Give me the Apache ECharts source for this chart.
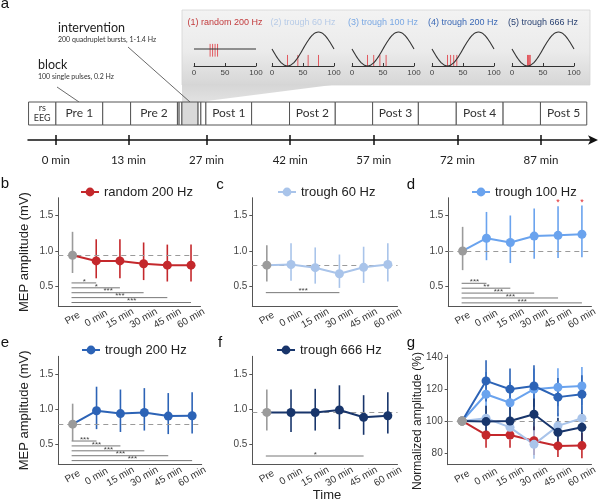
<!DOCTYPE html>
<html lang="en">
<head>
<meta charset="UTF-8">
<title>MEP amplitude after phase-locked burst stimulation</title>
<style>
  html, body { margin: 0; padding: 0; background: #fff; }
  #chart { width: 600px; height: 502px; }
</style>
</head>
<body>
<div id="chart"></div>
<script src="https://cdn.jsdelivr.net/npm/echarts@6/dist/echarts.min.js"></script>
<script>
// ---------- data ----------
const timePoints = ['Pre', '0 min', '15 min', '30 min', '45 min', '60 min'];

// panel a: session timeline, minutes
const timelineTicks = [0, 13, 27, 42, 57, 72, 87];
const blockLabels = ['rs\nEEG', 'Pre 1', '', 'Pre 2', '', '', '', '', '', 'Post 1', '', 'Post 2', '', 'Post 3', '', 'Post 4', '', 'Post 5'];
const blockStart  = [-4.9, 0, 8.4, 13.4, 21.8, 22.1, 22.6, 25.5, 26.0, 26.9, 35.1, 41.9, 50.1, 56.8, 65.0, 71.8, 80.2, 86.9];
const blockEnd    = [0, 8.4, 13.4, 21.8, 22.1, 22.6, 25.5, 26.0, 26.9, 35.1, 41.9, 50.1, 56.8, 65.0, 71.8, 80.2, 86.9, 95.2];
const interventionBlock = 6;

// insets: protocol schematics (phase in % of a mu cycle)
const protocolNames = ['(1) random 200 Hz', '(2) trough 60 Hz', '(3) trough 100 Hz', '(4) trough 200 Hz', '(5) trough 666 Hz'];
const phaseX = [0, 5, 10, 15, 20, 25, 30, 35, 40, 45, 50, 55, 60, 65, 70, 75, 80, 85, 90, 95, 100];
const waveY  = [0, -0.31, -0.59, -0.81, -0.95, -1, -0.95, -0.81, -0.59, -0.31, 0, 0.31, 0.59, 0.81, 0.95, 1, 0.95, 0.81, 0.59, 0.31, 0];
const flatX  = [0, 100];
const flatY  = [0, 0];
const pulseTimes = [
  [26, 30, 34, 38],
  [25, 41.7, 58.3, 75],
  [25, 35, 45, 55],
  [25, 30, 35, 40],
  [25, 26.5, 28, 29.5]
];

// panels b-f: MEP amplitude (mV), mean and error bar ends
const mepRandom200   = [0.94, 0.86, 0.86, 0.82, 0.80, 0.80];
const mepRandom200Hi = [1.27, 1.165, 1.165, 1.12, 1.09, 1.09];
const mepRandom200Lo = [0.69, 0.615, 0.615, 0.59, 0.57, 0.57];
const sigRandom200End  = [1, 2, 3, 4, 5];
const sigRandom200Text = ['*', '*', '***', '***', '***'];

const mep60   = [0.80, 0.81, 0.765, 0.68, 0.77, 0.81];
const mep60Hi = [1.08, 1.11, 1.05, 0.95, 1.06, 1.11];
const mep60Lo = [0.57, 0.58, 0.54, 0.48, 0.55, 0.57];
const sig60End  = [3];
const sig60Text = ['***'];

const mep100   = [1.0, 1.18, 1.12, 1.21, 1.22, 1.235];
const mep100Hi = [1.34, 1.55, 1.50, 1.60, 1.63, 1.64];
const mep100Lo = [0.73, 0.87, 0.83, 0.89, 0.90, 0.91];
const sig100End  = [1, 2, 3, 4, 5];
const sig100Text = ['***', '**', '***', '***', '***'];
const mep100Stars = [4, 5];

const mep200   = [0.79, 0.98, 0.94, 0.955, 0.905, 0.91];
const mep200Hi = [1.08, 1.32, 1.28, 1.30, 1.23, 1.24];
const mep200Lo = [0.555, 0.72, 0.68, 0.70, 0.65, 0.66];
const sig200End  = [1, 2, 3, 4, 5];
const sig200Text = ['***', '***', '***', '***', '***'];

const mep666   = [0.957, 0.955, 0.955, 0.99, 0.887, 0.91];
const mep666Hi = [1.28, 1.28, 1.29, 1.34, 1.20, 1.24];
const mep666Lo = [0.70, 0.68, 0.70, 0.72, 0.64, 0.66];
const sig666End  = [4];
const sig666Text = ['*'];

// panel g: normalized amplitude (%), mean and +/- error
const normRandom200 = [100, 91.2, 91.2, 87.6, 84.3, 84.5];
const errRandom200  = [0, 8, 8, 9, 7, 8];
const norm60  = [100, 101.7, 96, 85.3, 96.9, 101.7];
const err60   = [0, 8, 8, 9, 8, 8];
const norm100 = [100, 116.8, 111.5, 120, 121.2, 122];
const err100  = [0, 14, 13, 13, 12, 12];
const norm200 = [100, 125.2, 120, 122, 115, 116.8];
const err200  = [0, 13, 13, 13, 12, 12];
const norm666 = [100, 99.6, 100, 104.2, 92.9, 96];
const err666  = [0, 10, 10, 10, 9, 9];

// ---------- styling / layout ----------
const FONT = '"Liberation Sans", Arial, sans-serif';
const FONT_A = 'Lato, "Open Sans", sans-serif';
const PRE_GREY = '#9b9b9b';
const AXIS = '#555';
const SIG_STEP = 4.9;
const BOX_TOP = 38, BOX_BOTTOM = 15;
const insetLeft = [194, 272, 352, 432, 512];
const INSET_W = 62;
const insetColors = ['#c23a3c', '#b7cbe7', '#7aa8e3', '#3a68b5', '#2b4373'];
const PULSE = '#e2585e';

const grids = [], xAxes = [], yAxes = [], series = [], legends = [];

// ---- panel a: timeline ----
grids.push({ left: 28, top: 102, width: 566, height: 38 });
xAxes.push({
  gridIndex: 0, type: 'value', min: -5, max: 96.5, position: 'bottom',
  axisLine: { show: true, onZero: false, symbol: ['none', 'arrow'], symbolSize: [7, 10], symbolOffset: [0, 4],
    lineStyle: { color: '#111', width: 1.5 } },
  axisTick: { show: true, customValues: timelineTicks, length: 5, lineStyle: { color: '#111', width: 1.5 } },
  axisLabel: { customValues: timelineTicks, formatter: v => v + ' min', margin: 14, fontSize: 11.5, color: '#222', fontFamily: FONT_A },
  splitLine: { show: false }
});
xAxes.push({
  gridIndex: 0, type: 'value', min: -5, max: 96.5, position: 'bottom',
  axisLine: { show: false },
  axisTick: { show: true, inside: true, customValues: timelineTicks, length: 5, lineStyle: { color: '#111', width: 1.5 } },
  axisLabel: { show: false }, splitLine: { show: false }
});
yAxes.push({ gridIndex: 0, type: 'value', min: 0, max: 38, show: false });

series.push({
  type: 'custom', xAxisIndex: 0, yAxisIndex: 0, silent: true, clip: false,
  data: blockStart.map((s, i) => [s, blockEnd[i]]),
  renderItem(params, api) {
    const i = params.dataIndex;
    const p0 = api.coord([api.value(0), BOX_TOP]);
    const p1 = api.coord([api.value(1), BOX_BOTTOM]);
    const small = blockLabels[i].indexOf('\n') >= 0;
    return {
      type: 'rect',
      shape: { x: p0[0], y: p0[1], width: p1[0] - p0[0], height: p1[1] - p0[1] },
      style: { fill: i === interventionBlock ? '#d9d9d9' : '#fff', stroke: '#555', lineWidth: 1 },
      textContent: { type: 'text', style: { text: blockLabels[i], fontFamily: FONT_A, fontSize: small ? 9 : 12,
        lineHeight: small ? 10 : 14, fill: '#333', align: 'center' } },
      textConfig: { position: 'inside' }
    };
  }
});

// ---- insets ----
protocolNames.forEach((name, k) => {
  const g = grids.length;
  grids.push({ left: insetLeft[k], top: 32, width: INSET_W, height: 34 });
  xAxes.push({
    gridIndex: g, type: 'value', min: 0, max: 100, interval: 50,
    axisLine: { show: true, onZero: false, lineStyle: { color: '#333', width: 1 } },
    axisTick: { show: true, inside: true, length: 3, lineStyle: { color: '#333' } },
    axisLabel: { fontSize: 8, color: '#444', margin: 3, fontFamily: FONT },
    splitLine: { show: false }
  });
  yAxes.push({ gridIndex: g, type: 'value', min: -1, max: 1, show: false });
  const xs = k === 0 ? flatX : phaseX;
  const ys = k === 0 ? flatY : waveY;
  series.push({
    type: 'line', xAxisIndex: g + 1, yAxisIndex: g, silent: true, clip: false,
    data: xs.map((x, i) => [x, ys[i]]), smooth: true, symbol: 'none',
    lineStyle: { color: '#333', width: 1.1 }
  });
  const lo = k === 0 ? -0.45 : -1, hi = k === 0 ? 0.3 : -0.35;
  series.push({
    type: 'custom', xAxisIndex: g + 1, yAxisIndex: g, silent: true, clip: false,
    data: pulseTimes[k].map(t => [t]),
    renderItem(params, api) {
      const a = api.coord([api.value(0), lo]), b = api.coord([api.value(0), hi]);
      return { type: 'line', shape: { x1: a[0], y1: a[1], x2: b[0], y2: b[1] }, style: { stroke: PULSE, lineWidth: 1 } };
    }
  });
});

// ---- panels b-f ----
const panels = [
  { letter: 'b', name: 'random 200 Hz', color: '#c4282c', mean: mepRandom200, hi: mepRandom200Hi, lo: mepRandom200Lo,
    sigEnd: sigRandom200End, sigText: sigRandom200Text, left: 58.3, top: 197.75, height: 108.6, step: 23.7, sigTop: 0.55,
    legendAt: [80, 185.5], yName: 'MEP amplitude (mV)' },
  { letter: 'c', name: 'trough 60 Hz', color: '#a9c4ea', mean: mep60, hi: mep60Hi, lo: mep60Lo,
    sigEnd: sig60End, sigText: sig60Text, left: 252.3, top: 197.75, height: 108.6, step: 24.2, sigTop: 0.413,
    legendAt: [277, 185.5] },
  { letter: 'd', name: 'trough 100 Hz', color: '#6aa3ee', mean: mep100, hi: mep100Hi, lo: mep100Lo,
    sigEnd: sig100End, sigText: sig100Text, left: 448.3, top: 197.75, height: 108.6, step: 24.2, sigTop: 0.545,
    legendAt: [471, 185.5], stars: mep100Stars },
  { letter: 'e', name: 'trough 200 Hz', color: '#2c63b6', mean: mep200, hi: mep200Hi, lo: mep200Lo,
    sigEnd: sig200End, sigText: sig200Text, left: 58.3, top: 356.3, height: 108.2, step: 23.9, sigTop: 0.552,
    legendAt: [81, 343.5], yName: 'MEP amplitude (mV)' },
  { letter: 'f', name: 'trough 666 Hz', color: '#18356b', mean: mep666, hi: mep666Hi, lo: mep666Lo,
    sigEnd: sig666End, sigText: sig666Text, left: 252.3, top: 356.3, height: 108.2, step: 24.2, sigTop: 0.34,
    legendAt: [276, 343.5] }
];

function addPanelAxes(p, yMin, yMax, yTicks) {
  const g = grids.length;
  grids.push({ left: p.left, top: p.top, width: 6 * p.step, height: p.height });
  xAxes.push({
    gridIndex: g, type: 'value', min: -0.6, max: 5.4,
    axisLine: { show: true, onZero: false, lineStyle: { color: AXIS, width: 1 } },
    axisTick: { show: false },
    axisLabel: { customValues: [0, 1, 2, 3, 4, 5], formatter: v => timePoints[v], rotate: 30, align: 'center',
      verticalAlign: 'middle', margin: 12, fontSize: 10, color: '#333', fontFamily: FONT },
    splitLine: { show: false }
  });
  yAxes.push({
    gridIndex: g, type: 'value', min: yMin, max: yMax,
    name: p.yName || '', nameLocation: 'middle', nameGap: 27,
    nameTextStyle: { fontSize: 13, color: '#222', fontFamily: FONT },
    axisLine: { show: true, onZero: false, lineStyle: { color: AXIS, width: 1 } },
    axisTick: { show: true, customValues: yTicks, length: 3, lineStyle: { color: AXIS } },
    axisLabel: { customValues: yTicks, fontSize: 10, color: '#444', margin: 5, fontFamily: FONT,
      formatter: v => (yMax < 10 ? v.toFixed(1) : String(v)) },
    splitLine: { show: false }
  });
  return g;
}

function errorBars(g, means, los, his, color) {
  return {
    type: 'custom', xAxisIndex: g + 1, yAxisIndex: g, silent: true, clip: false, z: 3,
    data: means.map((m, i) => [i, los[i], his[i]]),
    renderItem(params, api) {
      const i = api.value(0);
      const a = api.coord([i, api.value(1)]), b = api.coord([i, api.value(2)]);
      return { type: 'line', shape: { x1: a[0], y1: a[1], x2: b[0], y2: b[1] },
        style: { stroke: i === 0 ? PRE_GREY : color, lineWidth: 1.6 } };
    }
  };
}

function meanLine(g, name, means, color, withBaseline) {
  const s = {
    type: 'line', name, xAxisIndex: g + 1, yAxisIndex: g, z: 5, clip: false,
    data: means.map((v, i) => (i === 0 ? { value: [0, v], itemStyle: { color: PRE_GREY } } : [i, v])),
    symbol: 'circle', symbolSize: 9, color,
    lineStyle: { width: 2, color }, itemStyle: { color },
    emphasis: { disabled: true }
  };
  if (withBaseline) {
    s.markLine = { silent: true, symbol: 'none', label: { show: false }, animation: false,
      lineStyle: { type: [5, 4], color: '#9a9a9a', width: 1.2 }, data: [{ yAxis: means[0] }] };
  }
  return s;
}

panels.forEach(p => {
  const g = addPanelAxes(p, 0.22, 1.75, [0.5, 1.0, 1.5]);
  series.push(errorBars(g, p.mean, p.lo, p.hi, p.color));
  series.push(meanLine(g, p.name, p.mean, p.color, true));
  // significance brackets from Pre to each post time point
  series.push({
    type: 'custom', xAxisIndex: g + 1, yAxisIndex: g, silent: true, clip: false, z: 4,
    data: p.sigEnd.map((e, k) => [e, k]),
    renderItem(params, api) {
      const end = api.value(0), k = api.value(1);
      const a = api.coord([0, p.sigTop]), b = api.coord([end, p.sigTop]);
      const y = a[1] + k * SIG_STEP;
      return { type: 'group', children: [
        { type: 'line', shape: { x1: a[0] - 1, y1: y, x2: b[0], y2: y }, style: { stroke: '#777', lineWidth: 1 } },
        { type: 'text', x: (a[0] + b[0]) / 2, y: y + 2.5,
          style: { text: p.sigText[k], fontSize: 8, fill: '#444', align: 'center', verticalAlign: 'bottom', fontFamily: FONT } }
      ] };
    }
  });
  if (p.stars) {
    series.push({
      type: 'custom', xAxisIndex: g + 1, yAxisIndex: g, silent: true, clip: false, z: 6,
      data: p.stars.map(i => [i, p.hi[i]]),
      renderItem(params, api) {
        const c = api.coord([api.value(0), api.value(1)]);
        return { type: 'text', x: c[0], y: c[1] + 1,
          style: { text: '*', fontSize: 9, fill: '#e0262b', align: 'center', verticalAlign: 'bottom', fontFamily: FONT } };
      }
    });
  }
  legends.push({
    data: [p.name], left: p.legendAt[0], top: p.legendAt[1], padding: 0, selectedMode: false,
    itemWidth: 18, itemHeight: 11, textStyle: { fontSize: 13, color: '#222', fontFamily: FONT }
  });
});

// ---- panel g ----
const gPanel = { left: 447.7, top: 355, height: 109.7, step: 24.2 };
const gg = addPanelAxes(gPanel, 72.5, 141.5, [80, 100, 120, 140]);
const normSeries = [
  { name: 'g random 200 Hz', mean: normRandom200, err: errRandom200, color: '#c4282c' },
  { name: 'g trough 60 Hz', mean: norm60, err: err60, color: '#a9c4ea' },
  { name: 'g trough 100 Hz', mean: norm100, err: err100, color: '#6aa3ee' },
  { name: 'g trough 200 Hz', mean: norm200, err: err200, color: '#2c63b6' },
  { name: 'g trough 666 Hz', mean: norm666, err: err666, color: '#18356b' }
];
normSeries.forEach((s, k) => {
  series.push(errorBars(gg, s.mean, s.mean.map((m, i) => m - s.err[i]), s.mean.map((m, i) => m + s.err[i]), s.color));
  series.push(meanLine(gg, s.name, s.mean, s.color, k === 0));
});

// ---- annotations ----
const letter = (t, x, y) => ({ type: 'text', x, y, style: { text: t, fontSize: 15, fill: '#111', fontFamily: FONT, align: 'center', verticalAlign: 'middle' } });
const graphic = [
  { type: 'rect', shape: { x: 182, y: 10, width: 408, height: 75 }, silent: true,
    style: { fill: { type: 'linear', x: 0, y: 0, x2: 0, y2: 1, colorStops: [{ offset: 0, color: '#f3f3f3' }, { offset: 0.55, color: '#ebebeb' }, { offset: 1, color: '#d6d6d6' }] },
      stroke: '#d4d4d4', lineWidth: 0.8 } },
  { type: 'polygon', shape: { points: [[182, 85], [332, 85], [199, 102], [182, 102]] }, silent: true,
    style: { fill: { type: 'linear', x: 0, y: 0, x2: 0, y2: 1, colorStops: [{ offset: 0, color: '#d6d6d6' }, { offset: 1, color: '#e2e2e2' }] } } },
  { type: 'line', shape: { x1: 128, y1: 47, x2: 190, y2: 102 }, style: { stroke: '#444', lineWidth: 0.8 } },
  { type: 'line', shape: { x1: 57, y1: 87, x2: 79, y2: 102 }, style: { stroke: '#444', lineWidth: 0.8 } },
  { type: 'text', x: 58, y: 28, style: { text: 'intervention', fontSize: 12.5, fill: '#222', fontFamily: FONT_A, verticalAlign: 'middle' } },
  { type: 'text', x: 58, y: 40, style: { text: '200 quadruplet bursts, 1-1.4 Hz', fontSize: 7, fill: '#333', fontFamily: FONT_A, verticalAlign: 'middle' } },
  { type: 'text', x: 38, y: 65, style: { text: 'block', fontSize: 12.5, fill: '#222', fontFamily: FONT_A, verticalAlign: 'middle' } },
  { type: 'text', x: 38, y: 77, style: { text: '100 single pulses, 0.2 Hz', fontSize: 7, fill: '#333', fontFamily: FONT_A, verticalAlign: 'middle' } },
  { type: 'text', x: 327, y: 495, style: { text: 'Time', fontSize: 13, fill: '#222', fontFamily: FONT, align: 'center', verticalAlign: 'middle' } },
  { type: 'text', x: 418, y: 421, rotation: Math.PI / 2,
    style: { text: 'Normalized amplitude (%)', fontSize: 12, fill: '#222', fontFamily: FONT, align: 'center', verticalAlign: 'middle' } },
  letter('a', 5, 4), letter('b', 5, 184), letter('c', 220, 185), letter('d', 411, 185),
  letter('e', 5, 343), letter('f', 220, 343), letter('g', 411, 343)
];
protocolNames.forEach((name, k) => {
  graphic.push({ type: 'text', x: insetLeft[k] + INSET_W / 2, y: 23,
    style: { text: name, fontSize: 9, fill: insetColors[k], fontFamily: FONT, align: 'center', verticalAlign: 'middle' } });
});

const chart = echarts.init(document.getElementById('chart'));
chart.setOption({
  animation: false,
  backgroundColor: '#fff',
  grid: grids,
  xAxis: xAxes,
  yAxis: yAxes,
  legend: legends,
  graphic: { elements: graphic },
  series
});
</script>
</body>
</html>
